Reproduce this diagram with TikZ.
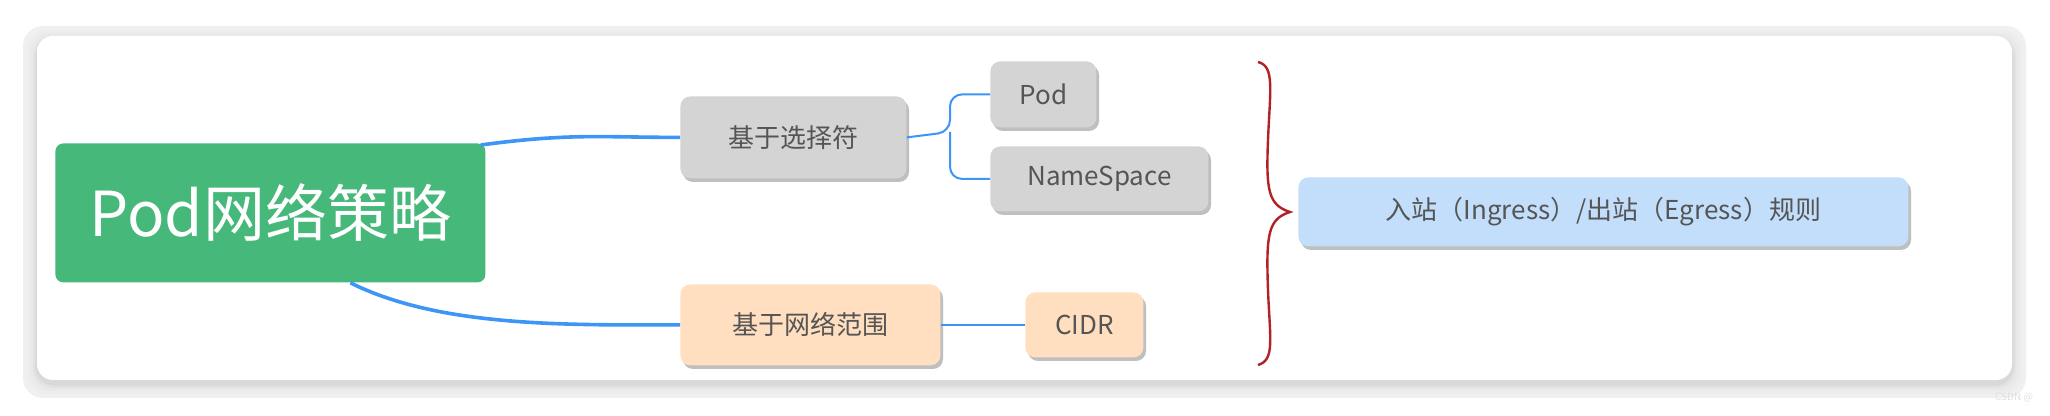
\documentclass[tikz,border=0pt]{standalone}
\usepackage{fontspec}
\setmainfont{Noto Sans CJK SC}
\usetikzlibrary{decorations.pathreplacing}
\definecolor{mgreen}{HTML}{45B87A}
\definecolor{mgray}{HTML}{D4D4D4}
\definecolor{mpeach}{HTML}{FFDFC0}
\definecolor{mblue}{HTML}{C2DEFA}
\definecolor{mline}{HTML}{3D95F5}
\definecolor{mtext}{HTML}{555555}
\definecolor{mred}{HTML}{B22222}
\tikzset{
  topic/.style={rounded corners=5pt, text=mtext, font=\fontsize{13}{15}\selectfont, anchor=north west, inner sep=0pt, align=center},
  conn/.style={draw=mline, line width=1.8pt},
  thin conn/.style={draw=mline, line width=1pt},
}
\begin{document}
\begin{tikzpicture}[x=0.5pt,y=-0.5pt]
\useasboundingbox (0,0) rectangle (2050,416);
\fill[white] (0,0) rectangle (2050,416);
% card shadow
\foreach \i/\o in {14/6,10/10,7/16,4/26,2/40}{
  \fill[black,opacity=0.0\o,rounded corners=10pt] (37-\i,36-\i+4) rectangle (2012+\i,380+\i+4);
}
\fill[white,rounded corners=8pt] (37,36) rectangle (2012,380);
% shadows of topics
\foreach \a/\b/\c/\d in {680/96/906/178, 680/284/940/365, 990/61/1096/127, 990/146/1208/211, 1025/292/1143/357, 1298/177/1908/246}{
  \fill[black!25,rounded corners=5pt] (\a+3,\b+4) rectangle (\c+3,\d+4);
}
\node[topic, fill=mgreen, text=white, font=\fontsize{31}{36}\selectfont, minimum width=215pt, minimum height=69.5pt, rounded corners=4pt] (main) at (55,143) {Pod网络策略};
\node[topic, fill=mgray, minimum width=113pt, minimum height=41pt] (sel) at (680,96) {基于选择符};
\node[topic, fill=mpeach, minimum width=130pt, minimum height=40.5pt] (net) at (680,284) {基于网络范围};
\node[topic, fill=mgray, minimum width=53pt, minimum height=33pt] (pod) at (990,61) {Pod};
\node[topic, fill=mgray, minimum width=109pt, minimum height=32.5pt] (ns) at (990,146) {NameSpace};
\node[topic, fill=mpeach, minimum width=59pt, minimum height=32.5pt] (cidr) at (1025,292) {CIDR};
\node[topic, fill=mblue, minimum width=305pt, minimum height=34.5pt] (rule) at (1298,177) {入站（Ingress）/出站（Egress）规则};
% connectors
\draw[conn] (main.north east) ++(-5,2) .. controls +(90,-12) and +(-80,0) .. (sel.west);
\draw[conn] (main.south) ++(80,0) .. controls +(90,45) and +(-110,0) .. (net.west);
\draw[thin conn, rounded corners=6pt] (sel.east) -- (950,132) |- (pod.west);
\draw[thin conn, rounded corners=6pt] (950,132) |- (ns.west);
\draw[thin conn] (net.east) -- (cidr.west);
% brace
\coordinate (bt) at (1258,62);
\coordinate (bb) at (1258,365);
\draw[mred, line width=1.2pt] (bt) .. controls (1275,66) and (1270,90) .. (1268,140)
  .. controls (1266,190) and (1268,205) .. (1290,212)
  .. controls (1268,219) and (1266,234) .. (1268,290)
  .. controls (1270,340) and (1275,360) .. (bb);
\node[font=\fontsize{5}{6}\selectfont, text=black!12, anchor=east] at (2040,398) {CSDN @};
\end{tikzpicture}
\end{document}
